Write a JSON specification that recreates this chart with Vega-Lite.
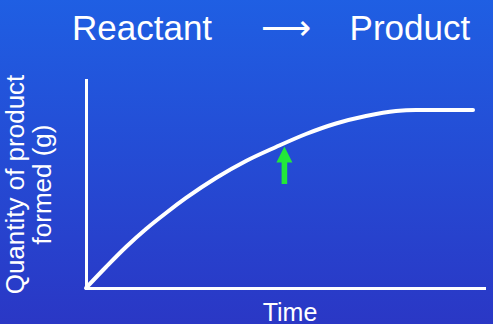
{
  "$schema": "https://vega.github.io/schema/vega-lite/v6.json",
  "width": 398,
  "height": 208,
  "autosize": {"type": "none"},
  "padding": {"top": 80, "left": 86, "right": 9, "bottom": 36},
  "background": "#2349d2",
  "title": {
    "text": "Reactant\u00a0\u00a0\u00a0\u00a0\u00a0⟶\u00a0\u00a0\u00a0\u00a0Product",
    "anchor": "start",
    "frame": "group",
    "dx": -14,
    "offset": -76,
    "baseline": "alphabetic",
    "fontSize": 35,
    "font": "Liberation Sans",
    "fontWeight": "normal",
    "color": "#ffffff",
    "zindex": 2
  },
  "config": {
    "view": {"stroke": null},
    "axis": {
      "domainColor": "#ffffff",
      "domainWidth": 3,
      "domainCap": "square",
      "ticks": false,
      "labels": false,
      "grid": false,
      "titleColor": "#ffffff",
      "titleFont": "Liberation Sans",
      "titleFontWeight": "normal"
    },
    "axisX": {"titleFontSize": 25, "titlePadding": 12, "titleX": 203.5},
    "axisY": {"titleFontSize": 26, "titleLineHeight": 27, "titlePadding": 31}
  },
  "layer": [
    {
      "data": {"values": [{"part": "backdrop"}]},
      "mark": {
        "type": "rect",
        "clip": false,
        "fill": {
          "gradient": "linear",
          "x1": 0, "y1": 0, "x2": 0, "y2": 1,
          "stops": [
            {"offset": 0, "color": "#1f5fe3"},
            {"offset": 1, "color": "#2a37c5"}
          ]
        },
        "opacity": 1
      },
      "encoding": {
        "x": {"datum": -22, "type": "quantitative", "scale": {"domain": [0, 100], "nice": false}, "title": "Time", "axis": {"zindex": 1}},
        "x2": {"datum": 103},
        "y": {"datum": 139, "type": "quantitative", "scale": {"domain": [0, 100], "nice": false}, "title": ["Quantity of product", "formed (g)"], "axis": {"zindex": 1}},
        "y2": {"datum": -18}
      }
    },
    {
      "data": {
        "values": [
          {"time": 0, "quantity": 0},
          {"time": 5.03, "quantity": 10.1},
          {"time": 10.05, "quantity": 19.71},
          {"time": 15.08, "quantity": 28.37},
          {"time": 20.1, "quantity": 36.06},
          {"time": 25.13, "quantity": 43.27},
          {"time": 32.66, "quantity": 52.88},
          {"time": 40.2, "quantity": 61.06},
          {"time": 47.74, "quantity": 67.79},
          {"time": 55.28, "quantity": 74.04},
          {"time": 62.81, "quantity": 79.09},
          {"time": 70.35, "quantity": 82.69},
          {"time": 77.89, "quantity": 85.1},
          {"time": 82.91, "quantity": 85.58},
          {"time": 97.24, "quantity": 85.58}
        ]
      },
      "mark": {"type": "line", "color": "#ffffff", "strokeWidth": 4, "interpolate": "monotone", "strokeCap": "round"},
      "encoding": {
        "x": {"field": "time", "type": "quantitative", "title": "Time", "axis": {"zindex": 1}},
        "y": {"field": "quantity", "type": "quantitative", "title": ["Quantity of product", "formed (g)"], "axis": {"zindex": 1}}
      }
    },
    {
      "data": {"values": [{"time": 49.85, "quantity": 64.2, "label": "rate marker"}]},
      "mark": {
        "type": "point",
        "shape": "M0,-1L1,1L0.35,1L0.35,3.7L-0.35,3.7L-0.35,1L-1,1Z",
        "size": 256,
        "filled": true,
        "opacity": 1,
        "color": "#22e83a",
        "strokeWidth": 0
      },
      "encoding": {
        "x": {"field": "time", "type": "quantitative", "title": "Time", "axis": {"zindex": 1}},
        "y": {"field": "quantity", "type": "quantitative", "title": ["Quantity of product", "formed (g)"], "axis": {"zindex": 1}}
      }
    }
  ]
}
